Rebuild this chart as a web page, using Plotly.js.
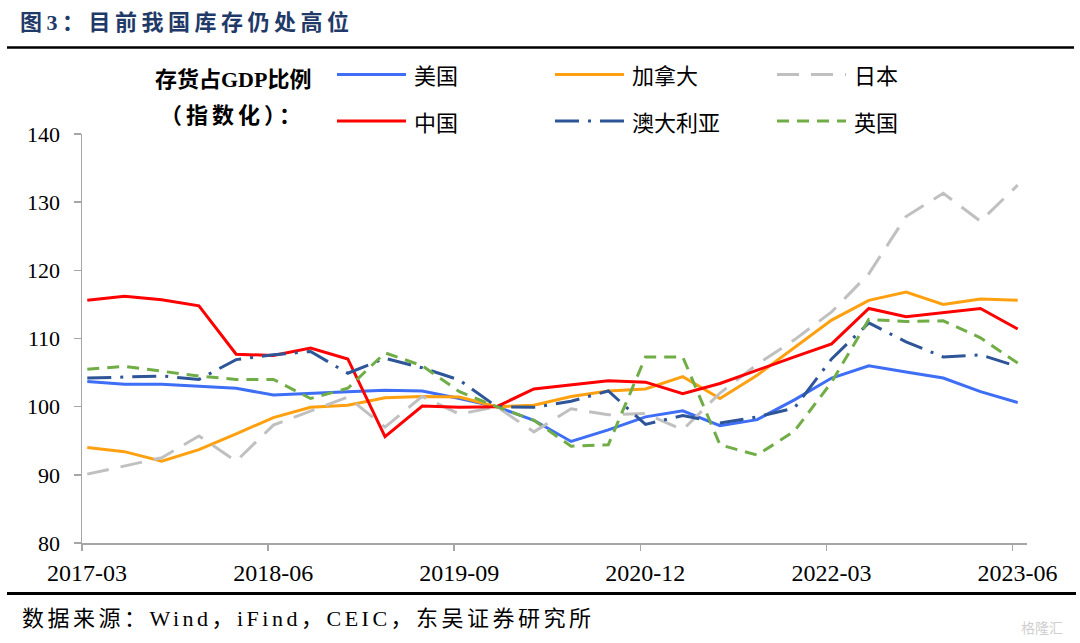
<!DOCTYPE html>
<html>
<head>
<meta charset="utf-8">
<script src="https://cdn.plot.ly/plotly-3.0.1.min.js"></script>
<style>
  html, body { margin: 0; padding: 0; background: #ffffff; }
  #chart { width: 1080px; height: 643px; }
  .gtitle { letter-spacing: 4.5px; }
</style>
</head>
<body>
<div id="chart"></div>
<script>
// Quarter-end labels, 2017Q1 .. 2023Q2 (index base 2019-12 = 100)
const quarters = [
  '2017-03','2017-06','2017-09','2017-12',
  '2018-03','2018-06','2018-09','2018-12',
  '2019-03','2019-06','2019-09','2019-12',
  '2020-03','2020-06','2020-09','2020-12',
  '2021-03','2021-06','2021-09','2021-12',
  '2022-03','2022-06','2022-09','2022-12',
  '2023-03','2023-06'
];
const tickLabels = ['2017-03','2018-06','2019-09','2020-12','2022-03','2023-06'];

// Inventory / GDP, indexed
const usa       = [103.7,103.3,103.3,103.0,102.7,101.7,102.0,102.2,102.4,102.3,101.2,100.0,98.0,94.9,96.6,98.5,99.4,97.2,98.1,101.0,104.2,106.0,105.1,104.2,102.2,100.6];
const canada    = [94.0,93.4,92.0,93.7,96.0,98.4,99.9,100.2,101.3,101.5,101.4,100.0,100.2,101.5,102.3,102.6,104.4,101.2,104.6,108.6,112.7,115.6,116.8,115.0,115.8,115.6];
const japan     = [90.1,91.3,92.5,95.7,92.0,97.3,99.4,101.4,97.0,101.5,98.9,100.0,96.3,99.7,98.8,99.0,96.6,102.0,106.2,109.8,113.9,119.5,127.9,131.3,127.2,132.5];
const china     = [115.6,116.2,115.7,114.8,107.7,107.5,108.6,107.0,95.6,100.1,99.9,100.0,102.6,103.2,103.8,103.6,101.9,103.4,105.4,107.3,109.2,114.4,113.2,113.8,114.4,111.4];
const australia = [104.2,104.4,104.5,104.0,106.9,107.6,108.1,104.9,107.1,105.7,103.9,100.0,99.9,100.8,102.3,97.4,98.7,97.6,98.5,99.8,107.0,112.3,109.5,107.3,107.6,105.9];
const uk        = [105.5,105.9,105.2,104.5,104.0,104.0,101.2,102.7,107.9,106.0,102.2,100.0,98.0,94.2,94.4,107.3,107.3,94.4,92.9,96.4,103.6,112.8,112.5,112.6,110.1,106.4];

const seriesNames = ['美国','加拿大','日本','中国','澳大利亚','英国'];
const seriesData  = [usa, canada, japan, china, australia, uk];
const seriesStyle = [
  { color: '#3d6ef5', dash: 'solid' },
  { color: '#ffa010', dash: 'solid' },
  { color: '#c0c0c0', dash: '22px,12px' },
  { color: '#ff0000', dash: 'solid' },
  { color: '#2e5597', dash: '24px,9px,3px,9px' },
  { color: '#70ad47', dash: '12px,8px' }
];

// Plot area in page pixels
const W = 1080, H = 643;
const M = { l: 82, r: 53, t: 134, b: 100 };
const PW = W - M.l - M.r, PH = H - M.t - M.b;
const fx = x => (x - M.l) / PW;
const fy = y => (H - M.b - y) / PH;

const xIdx = quarters.map((q, i) => i);
const xStart = -0.142, xEnd = 25.25;

const traces = seriesData.map((vals, k) => ({
  type: 'scatter',
  mode: 'lines',
  name: seriesNames[k],
  x: xIdx,
  y: vals,
  line: { color: seriesStyle[k].color, width: 3, dash: seriesStyle[k].dash },
  showlegend: false,
  hoverinfo: 'skip'
}));

const serif = 'Liberation Serif, Noto Sans CJK SC, serif';
const cjk = 'Noto Sans CJK SC, sans-serif';

const shapes = [
  // title rule and bottom rule
  { type: 'line', xref: 'paper', yref: 'paper', x0: fx(7), x1: fx(1074), y0: fy(47.5), y1: fy(47.5),
    line: { color: '#000000', width: 2.5 } },
  { type: 'line', xref: 'paper', yref: 'paper', x0: fx(7), x1: fx(1076), y0: fy(593.5), y1: fy(593.5),
    line: { color: '#000000', width: 3 } }
];

const annotations = [
  { xref: 'paper', yref: 'paper', x: fx(20), y: fy(618), xanchor: 'left', yanchor: 'middle', align: 'left',
    text: '数据来源：Wind，iFind，CEIC，东吴证券研究所', showarrow: false,
    font: { family: serif, size: 22, color: '#000000' } },
  { xref: 'paper', yref: 'paper', x: fx(233), y: fy(80), xanchor: 'center', yanchor: 'middle',
    text: '存货占GDP比例', showarrow: false,
    font: { family: serif, size: 22, color: '#000000', weight: 'bold' } },
  { xref: 'paper', yref: 'paper', x: fx(232), y: fy(115), xanchor: 'center', yanchor: 'middle',
    text: '（指数化）：', showarrow: false,
    font: { family: serif, size: 22, color: '#000000', weight: 'bold' } },
  { xref: 'paper', yref: 'paper', x: fx(1042), y: fy(627), xanchor: 'center', yanchor: 'middle',
    text: '格隆汇', showarrow: false,
    font: { family: cjk, size: 14, color: '#cfcfcf' } }
];

// Legend: three columns, two rows
const legCols = [337, 555, 777];
const legRows = [74.5, 121];
seriesNames.forEach((name, k) => {
  const cx = legCols[k % 3], cy = legRows[Math.floor(k / 3)];
  shapes.push({ type: 'line', xref: 'paper', yref: 'paper',
    x0: fx(cx), x1: fx(cx + 69), y0: fy(cy), y1: fy(cy),
    line: { color: seriesStyle[k].color, width: 3, dash: seriesStyle[k].dash } });
  annotations.push({ xref: 'paper', yref: 'paper', x: fx(cx + 75), y: fy(cy),
    xanchor: 'left', yanchor: 'middle', text: name, showarrow: false,
    font: { family: cjk, size: 22, color: '#000000' } });
});

const axisCommon = {
  showline: true, linecolor: '#a6a6a6', linewidth: 1.5,
  ticks: 'outside', tickcolor: '#a6a6a6', tickwidth: 1.5,
  showgrid: false, zeroline: false, fixedrange: true
};

const layout = {
  width: W, height: H,
  margin: { l: M.l, r: M.r, t: M.t, b: M.b, autoexpand: false },
  paper_bgcolor: '#ffffff', plot_bgcolor: '#ffffff',
  title: {
    text: '图3：目前我国库存仍处高位',
    xref: 'container', yref: 'container',
    x: 20 / W, xanchor: 'left', y: 1 - 22 / H, yanchor: 'middle',
    font: { family: serif, size: 22, color: '#1f3a68', weight: 'bold' }
  },
  xaxis: Object.assign({}, axisCommon, {
    range: [xStart, xEnd],
    tickmode: 'array',
    tickvals: tickLabels.map(l => quarters.indexOf(l) - 0.14),
    ticktext: tickLabels,
    ticklen: 6,
    ticklabelshift: 5,
    ticklabelstandoff: 2,
    tickfont: { family: serif, size: 24, color: '#000000' }
  }),
  yaxis: Object.assign({}, axisCommon, {
    range: [80, 140],
    tickmode: 'linear', tick0: 80, dtick: 10,
    ticklen: 7,
    ticklabelstandoff: 9,
    tickfont: { family: serif, size: 22, color: '#000000' }
  }),
  shapes: shapes,
  annotations: annotations,
  showlegend: false
};

Plotly.newPlot('chart', traces, layout, { displayModeBar: false, staticPlot: true }).then(gd => {
  gd.querySelectorAll('.annotation-text').forEach(t => {
    const s = t.textContent;
    if (s.indexOf('数据来源') === 0) t.style.letterSpacing = '3.5px';
    if (s.indexOf('（指数化') === 0) t.style.letterSpacing = '4px';
  });
});
</script>
</body>
</html>
